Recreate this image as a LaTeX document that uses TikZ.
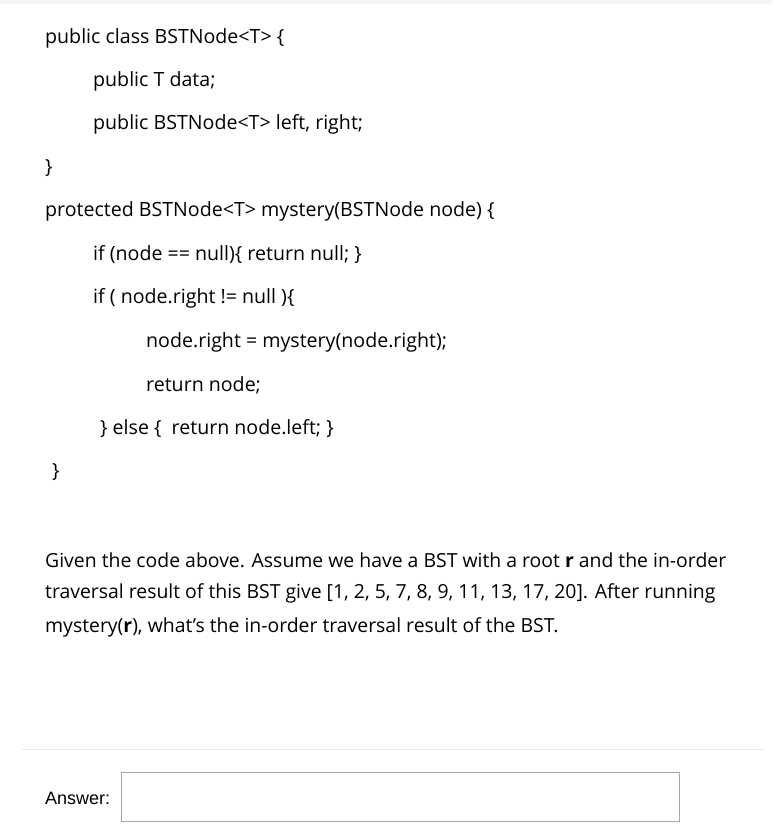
\documentclass[tikz,border=0pt]{standalone}
\usepackage{fontspec}
\setmainfont{Open Sans}
\newfontfamily\ansfont{Liberation Sans}
\begin{document}
\begin{tikzpicture}[x=1pt,y=-1pt,
  code/.style={anchor=west,inner sep=0pt,font=\fontsize{19.6}{22}\selectfont},
  para/.style={anchor=west,inner sep=0pt,font=\fontsize{19.4}{22}\selectfont}]
\useasboundingbox (0,0) rectangle (772,828);
\fill[white] (0,0) rectangle (772,828);
\fill[black!4] (0,0) rectangle (772,4);
\node[code] (l1) at (45,38) {public class BSTNode<T> \{};
\node[code] (l2) at (93,81) {public T data;};
\node[code] (l3) at (93,124) {public BSTNode<T> left, right;};
\node[code] (l4) at (45,168) {\}};
\node[code] (l5) at (45,211) {protected BSTNode<T> mystery(BSTNode node) \{};
\node[code] (l6) at (93,255) {if (node == null)\{ return null; \}};
\node[code] (l7) at (93,298) {if ( node.right != null )\{};
\node[code] (l8) at (146,342) {node.right = mystery(node.right);};
\node[code] (l9) at (146,385) {return node;};
\node[code] (l10) at (100,429) {\} else \{ \ return node.left; \}};
\node[code] (l11) at (52,472) {\}};
\node[para] (p1) at (45,560) {Given the code above. Assume we have a BST with a root \textbf{r} and the in-order};
\node[para] (p2) at (45,593) {traversal result of this BST give [1, 2, 5, 7, 8, 9, 11, 13, 17, 20]. After running};
\node[para] (p3) at (45,627) {mystery(\textbf{r}), what's the in-order traversal result of the BST.};
\draw[black!8] (22,749) -- (765,749);
\node[anchor=west,inner sep=0pt,font=\ansfont\fontsize{18}{20}\selectfont] (ans) at (45,798) {Answer:};
\draw[black!35] (121,772) rectangle (679,821);
\end{tikzpicture}
\end{document}
